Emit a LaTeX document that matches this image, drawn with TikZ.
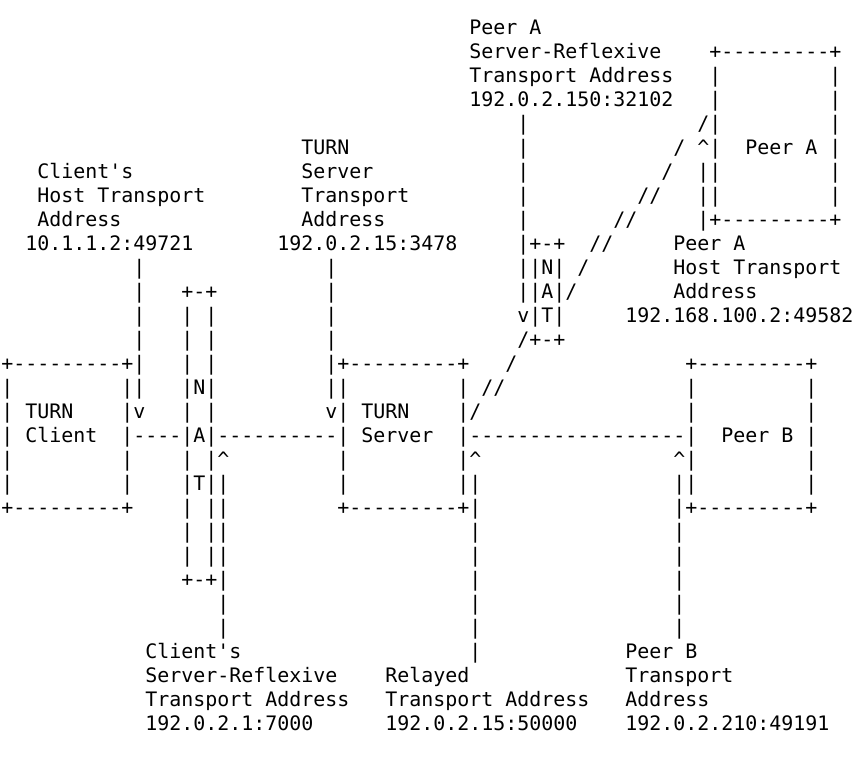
\documentclass[tikz,border=0pt]{standalone}
\usepackage{fontspec}
\setmonofont{DejaVu Sans Mono}
\usetikzlibrary{positioning}

% one piece of text starting at a column (12px) and a row (24px)
\newcommand{\seg}[3]{\node[txt] (t#2-#1) at ({(12*#1+1)*0.75pt},{-(34+24*#2)*0.75pt}) {#3};}

\begin{document}
\begin{tikzpicture}[
        txt/.style={anchor=base west, inner sep=0pt, font=\ttfamily\fontsize{14.95}{18}\selectfont}
    ]
    \useasboundingbox (0,0) rectangle (649.5pt,-568.5pt);

    % Peer A and its addresses
    \seg{39}{0}{Peer A}
    \seg{39}{1}{Server-Reflexive} \seg{59}{1}{+---------+}
    \seg{39}{2}{Transport Address} \seg{59}{2}{|} \seg{69}{2}{|}
    \seg{39}{3}{192.0.2.150:32102} \seg{59}{3}{|} \seg{69}{3}{|}
    \seg{43}{4}{|} \seg{58}{4}{/|} \seg{69}{4}{|}
    \seg{25}{5}{TURN} \seg{43}{5}{|} \seg{56}{5}{/ \textasciicircum|} \seg{62}{5}{Peer A} \seg{69}{5}{|}
    \seg{3}{6}{Client\textquotesingle s} \seg{25}{6}{Server} \seg{43}{6}{|} \seg{55}{6}{/} \seg{58}{6}{||} \seg{69}{6}{|}
    \seg{3}{7}{Host Transport} \seg{25}{7}{Transport} \seg{43}{7}{|} \seg{53}{7}{//} \seg{58}{7}{||} \seg{69}{7}{|}
    \seg{3}{8}{Address} \seg{25}{8}{Address} \seg{43}{8}{|} \seg{51}{8}{//} \seg{58}{8}{|+---------+}
    \seg{2}{9}{10.1.1.2:49721} \seg{23}{9}{192.0.2.15:3478} \seg{43}{9}{|+-+} \seg{49}{9}{//} \seg{56}{9}{Peer A}
    \seg{11}{10}{|} \seg{27}{10}{|} \seg{43}{10}{||N|} \seg{48}{10}{/} \seg{56}{10}{Host Transport}
    \seg{11}{11}{|} \seg{15}{11}{+-+} \seg{27}{11}{|} \seg{43}{11}{||A|/} \seg{56}{11}{Address}
    \seg{11}{12}{|} \seg{15}{12}{| |} \seg{27}{12}{|} \seg{43}{12}{v|T|} \seg{52}{12}{192.168.100.2:49582}
    \seg{11}{13}{|} \seg{15}{13}{| |} \seg{27}{13}{|} \seg{43}{13}{/+-+}

    % boxes
    \seg{0}{14}{+---------+|} \seg{15}{14}{| |} \seg{27}{14}{|+---------+} \seg{42}{14}{/} \seg{57}{14}{+---------+}
    \seg{0}{15}{|} \seg{10}{15}{||} \seg{15}{15}{|N|} \seg{27}{15}{||} \seg{38}{15}{|} \seg{40}{15}{//} \seg{57}{15}{|} \seg{67}{15}{|}
    \seg{0}{16}{| TURN} \seg{10}{16}{|v} \seg{15}{16}{| |} \seg{27}{16}{v| TURN} \seg{38}{16}{|/} \seg{57}{16}{|} \seg{67}{16}{|}
    \seg{0}{17}{| Client} \seg{10}{17}{|----|A|----------|} \seg{30}{17}{Server} \seg{38}{17}{|------------------|} \seg{60}{17}{Peer B} \seg{67}{17}{|}
    \seg{0}{18}{|} \seg{10}{18}{|} \seg{15}{18}{| |\textasciicircum} \seg{28}{18}{|} \seg{38}{18}{|\textasciicircum} \seg{56}{18}{\textasciicircum|} \seg{67}{18}{|}
    \seg{0}{19}{|} \seg{10}{19}{|} \seg{15}{19}{|T||} \seg{28}{19}{|} \seg{38}{19}{||} \seg{56}{19}{||} \seg{67}{19}{|}
    \seg{0}{20}{+---------+} \seg{15}{20}{| ||} \seg{28}{20}{+---------+|} \seg{56}{20}{|+---------+}

    % lower legs
    \seg{15}{21}{| ||} \seg{39}{21}{|} \seg{56}{21}{|}
    \seg{15}{22}{| ||} \seg{39}{22}{|} \seg{56}{22}{|}
    \seg{15}{23}{+-+|} \seg{39}{23}{|} \seg{56}{23}{|}
    \seg{18}{24}{|} \seg{39}{24}{|} \seg{56}{24}{|}
    \seg{18}{25}{|} \seg{39}{25}{|} \seg{56}{25}{|}
    \seg{12}{26}{Client\textquotesingle s} \seg{39}{26}{|} \seg{52}{26}{Peer B}
    \seg{12}{27}{Server-Reflexive} \seg{32}{27}{Relayed} \seg{52}{27}{Transport}
    \seg{12}{28}{Transport Address} \seg{32}{28}{Transport Address} \seg{52}{28}{Address}
    \seg{12}{29}{192.0.2.1:7000} \seg{32}{29}{192.0.2.15:50000} \seg{52}{29}{192.0.2.210:49191}

\end{tikzpicture}
\end{document}
